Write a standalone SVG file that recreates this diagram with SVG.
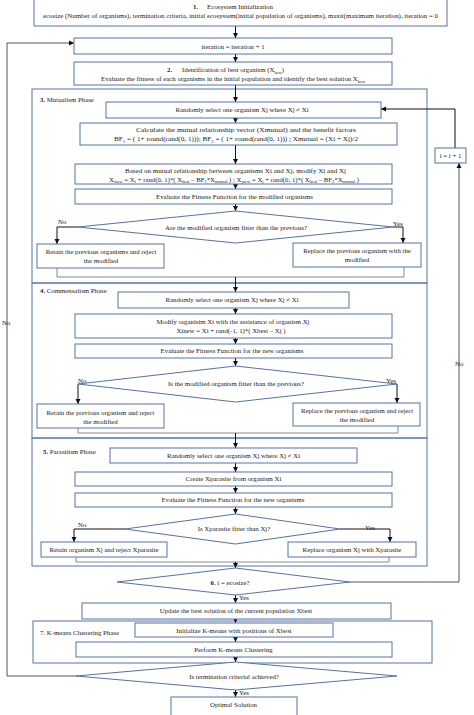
<svg xmlns="http://www.w3.org/2000/svg" width="474" height="715" viewBox="0 0 474 715">
<style>
.box{fill:#fff;stroke:#5672a8;stroke-width:1}
.ph{fill:none;stroke:#5672a8;stroke-width:1}
.dia{fill:#fff;stroke:#5672a8;stroke-width:1}
.t{font-family:"Liberation Serif","Times New Roman",serif;font-size:6.8px;fill:#222;text-anchor:middle}
.l{font-family:"Liberation Serif","Times New Roman",serif;font-size:6.8px;fill:#222}
.c{fill:none;stroke:#111;stroke-width:1}
.g{fill:none;stroke:#888;stroke-width:1}
.lp{fill:none;stroke:#555;stroke-width:1}
.sub{font-size:4.5px}
</style>
<defs>
<marker id="ah" markerUnits="userSpaceOnUse" markerWidth="6" markerHeight="6" refX="5" refY="3" orient="auto">
<path d="M0,0.5 L5,3 L0,5.5 Z" fill="#111"/>
</marker>
</defs>
<rect width="474" height="715" fill="#fff"/>

<g id="phases">
<rect class="ph" x="32" y="89" width="395" height="194"/>
<rect class="ph" x="32" y="283" width="395" height="155"/>
<rect class="ph" x="32" y="438" width="395" height="128"/>
<rect class="ph" x="33" y="621" width="399" height="42"/>
<text class="l" x="40" y="102"><tspan font-weight="bold">3.</tspan> Mutualism Phase</text>
<text class="l" x="40" y="293"><tspan font-weight="bold">4.</tspan> Commensalism Phase</text>
<text class="l" x="43" y="454"><tspan font-weight="bold">5.</tspan> Parasitism Phase</text>
<text class="l" x="40" y="635">7. K-means Clustering Phase</text>
</g>

<g id="connectors">
<line class="c" x1="235.5" y1="26" x2="235.5" y2="38" marker-end="url(#ah)"/>
<line class="c" x1="235.5" y1="54" x2="235.5" y2="62" marker-end="url(#ah)"/>
<line class="c" x1="235.5" y1="85" x2="235.5" y2="102" marker-end="url(#ah)"/>
<line class="c" x1="235.5" y1="118" x2="235.5" y2="123" marker-end="url(#ah)"/>
<line class="c" x1="235.5" y1="145" x2="235.5" y2="164" marker-end="url(#ah)"/>
<line class="c" x1="235.5" y1="184" x2="235.5" y2="189" marker-end="url(#ah)"/>
<line class="c" x1="235.5" y1="204" x2="235.5" y2="211" marker-end="url(#ah)"/>
<polyline class="c" points="78,227 57,227 57,244" marker-end="url(#ah)"/>
<polyline class="c" points="393,227 403,227 403,243" marker-end="url(#ah)"/>
<polyline class="g" points="57,268 57,277 404,277 404,267"/>
<line class="c" x1="235.5" y1="277" x2="235.5" y2="292" marker-end="url(#ah)"/>
<line class="c" x1="235.5" y1="308" x2="235.5" y2="314" marker-end="url(#ah)"/>
<line class="c" x1="235.5" y1="338" x2="235.5" y2="344" marker-end="url(#ah)"/>
<line class="c" x1="235.5" y1="358" x2="235.5" y2="366" marker-end="url(#ah)"/>
<line class="c" x1="78" y1="384" x2="78" y2="404" marker-end="url(#ah)"/>
<line class="c" x1="397" y1="384" x2="397" y2="403" marker-end="url(#ah)"/>
<polyline class="g" points="78,428 78,433 398,433 398,426"/>
<line class="c" x1="235.5" y1="433" x2="235.5" y2="448" marker-end="url(#ah)"/>
<line class="c" x1="235.5" y1="463" x2="235.5" y2="472" marker-end="url(#ah)"/>
<line class="c" x1="235.5" y1="486" x2="235.5" y2="493" marker-end="url(#ah)"/>
<line class="c" x1="235.5" y1="507" x2="235.5" y2="514" marker-end="url(#ah)"/>
<polyline class="c" points="125,529 74,529 74,542" marker-end="url(#ah)"/>
<polyline class="c" points="340,529 390,529 390,542" marker-end="url(#ah)"/>
<polyline class="g" points="76,557 76,562 389,562 389,557"/>
<line class="c" x1="235.5" y1="562" x2="235.5" y2="568" marker-end="url(#ah)"/>
<polyline class="lp" points="350,582 459,582 459,163" marker-end="url(#ah)"/>
<polyline class="c" points="455,148 455,109 381,109" marker-end="url(#ah)"/>
<line class="c" x1="235.5" y1="595" x2="235.5" y2="603" marker-end="url(#ah)"/>
<line class="c" x1="235.5" y1="619" x2="235.5" y2="623" marker-end="url(#ah)"/>
<line class="c" x1="235.5" y1="637" x2="235.5" y2="642" marker-end="url(#ah)"/>
<line class="c" x1="235.5" y1="657" x2="235.5" y2="662" marker-end="url(#ah)"/>
<polyline class="lp" points="78,676 7,676 7,43 74,43" marker-end="url(#ah)"/>
<line class="c" x1="235.5" y1="690" x2="235.5" y2="697" marker-end="url(#ah)"/>
<text class="l" x="58" y="224">No</text>
<text class="l" x="393" y="226">Yes</text>
<text class="l" x="78" y="383">No</text>
<text class="l" x="386" y="383">Yes</text>
<text class="l" x="78" y="527">No</text>
<text class="l" x="365" y="530">Yes</text>
<text class="l" x="239" y="600">Yes</text>
<text class="l" x="239" y="695">Yes</text>
<text class="l" x="2" y="325">No</text>
<text class="l" x="455" y="366">No</text>
</g>

<g id="n1">
<rect class="box" x="34" y="-2" width="413" height="28"/>
<text class="l" x="193" y="9" font-weight="bold">1.</text>
<text class="l" x="207" y="9">Ecosystem Initialization</text>
<text class="t" x="240.5" y="18" textLength="395" lengthAdjust="spacingAndGlyphs">ecosize (Number of organisms), termination criteria, initial ecosystem(initial population of organisms), maxit(maximum iteration), iteration = 0</text>
</g>
<g id="n_iter">
<rect class="box" x="74" y="38" width="318" height="16"/>
<text class="t" x="233" y="48.5">iteration = iteration + 1</text>
</g>
<g id="n2">
<rect class="box" x="74" y="62" width="318" height="23"/>
<text class="l" x="167" y="72" font-weight="bold">2.</text>
<text class="l" x="182" y="72">Identification of best organism (X<tspan class="sub" dy="1.5">best</tspan><tspan dy="-1.5">)</tspan></text>
<text class="l" x="101" y="81">Evaluate the fitness of each organisms in the initial population and identify the best solution X<tspan class="sub" dy="1.5">best</tspan></text>
</g>

<g id="m_select">
<rect class="box" x="106" y="102" width="275" height="16"/>
<text class="t" x="242" y="112">Randomly select one organism Xj  where Xj ≠ Xi</text>
</g>
<g id="m_calc">
<rect class="box" x="80" y="123" width="317" height="22"/>
<text class="t" x="246" y="132" textLength="220" lengthAdjust="spacingAndGlyphs">Calculate the mutual relationship vector (Xmutual) and the benefit factors</text>
<text class="t" x="236" y="141" textLength="244" lengthAdjust="spacingAndGlyphs">BF<tspan class="sub" dy="1.5">1</tspan><tspan dy="-1.5"> = ( 1+ round(rand(0, 1)));     BF</tspan><tspan class="sub" dy="1.5">2</tspan><tspan dy="-1.5"> = ( 1+ round(rand(0, 1))) ; Xmutual = (Xi + Xj)/2</tspan></text>
</g>
<g id="m_modify">
<rect class="box" x="75" y="164" width="317" height="20"/>
<text class="t" x="235.5" y="173" textLength="221" lengthAdjust="spacingAndGlyphs">Based on mutual relationship between organisms Xi and Xj, modify Xi and Xj</text>
<text class="t" x="234" y="181.5" textLength="250" lengthAdjust="spacingAndGlyphs">X<tspan class="sub" dy="1.5">inew</tspan><tspan dy="-1.5"> = X</tspan><tspan class="sub" dy="1.5">i</tspan><tspan dy="-1.5"> + rand(0, 1)*( X</tspan><tspan class="sub" dy="1.5">best</tspan><tspan dy="-1.5"> – BF</tspan><tspan class="sub" dy="1.5">1</tspan><tspan dy="-1.5">*X</tspan><tspan class="sub" dy="1.5">mutual</tspan><tspan dy="-1.5"> ) ; X</tspan><tspan class="sub" dy="1.5">jnew</tspan><tspan dy="-1.5"> = X</tspan><tspan class="sub" dy="1.5">j</tspan><tspan dy="-1.5"> + rand(0, 1)*( X</tspan><tspan class="sub" dy="1.5">best</tspan><tspan dy="-1.5"> – BF</tspan><tspan class="sub" dy="1.5">2</tspan><tspan dy="-1.5">*X</tspan><tspan class="sub" dy="1.5">mutual</tspan><tspan dy="-1.5"> )</tspan></text>
</g>
<g id="m_eval">
<rect class="box" x="75" y="189" width="317" height="15"/>
<text class="t" x="234.5" y="198.5" textLength="157" lengthAdjust="spacingAndGlyphs">Evaluate the Fitness Function for the modified organisms</text>
</g>
<g id="m_dec">
<polygon class="dia" points="235.5,211 393,227 235.5,243 78,227"/>
<text class="t" x="236" y="229.5" textLength="142" lengthAdjust="spacingAndGlyphs">Are the modified organism fitter than the previous?</text>
</g>
<g id="m_retain">
<rect class="box" x="37" y="244" width="127" height="24"/>
<text class="t" x="101" y="254">Retain the previous organisms and reject</text>
<text class="t" x="101" y="263">the modified</text>
</g>
<g id="m_replace">
<rect class="box" x="293" y="243" width="128" height="24"/>
<text class="t" x="357" y="253">Replace the previous organism with the</text>
<text class="t" x="357" y="262">modified</text>
</g>

<g id="c_select">
<rect class="box" x="118" y="292" width="231" height="16"/>
<text class="t" x="232" y="302">Randomly select one organism Xj  where Xj ≠ Xi</text>
</g>
<g id="c_modify">
<rect class="box" x="75" y="314" width="317" height="24"/>
<text class="t" x="233" y="324">Modify organisim Xi with the assistance of organism Xj</text>
<text class="t" x="231" y="333">Xinew = Xi + rand(-1, 1)*( Xbest – Xj  )</text>
</g>
<g id="c_eval">
<rect class="box" x="75" y="344" width="317" height="14"/>
<text class="t" x="232" y="353">Evaluate the Fitness Function for the new organisms</text>
</g>
<g id="c_dec">
<polygon class="dia" points="235.5,366 397,384 235.5,402 78,384"/>
<text class="t" x="236" y="386" textLength="136" lengthAdjust="spacingAndGlyphs">Is the modified organism fitter than the previous?</text>
</g>
<g id="c_retain">
<rect class="box" x="37" y="404" width="127" height="24"/>
<text class="t" x="100.5" y="415">Retain the previous organism and reject</text>
<text class="t" x="100.5" y="424">the modified</text>
</g>
<g id="c_replace">
<rect class="box" x="293" y="403" width="127" height="23"/>
<text class="t" x="357" y="412.5">Replace the previous organism and reject</text>
<text class="t" x="357" y="421.5">the modified</text>
</g>

<g id="p_select">
<rect class="box" x="110" y="448" width="247" height="15"/>
<text class="t" x="233.5" y="458">Randomly select one organism Xj where Xj ≠ Xi</text>
</g>
<g id="p_create">
<rect class="box" x="75" y="472" width="317" height="14"/>
<text class="t" x="233.5" y="481">Create Xparasite from organism Xi</text>
</g>
<g id="p_eval">
<rect class="box" x="75" y="493" width="317" height="14"/>
<text class="t" x="233" y="502">Evaluate the Fitness Function  for the new organisms</text>
</g>
<g id="p_dec">
<polygon class="dia" points="235.5,514 340,529 235.5,544 125,529"/>
<text class="t" x="234" y="531">Is Xparasite fitter than Xj?</text>
</g>
<g id="p_retain">
<rect class="box" x="41" y="542" width="126" height="15"/>
<text class="t" x="104" y="551.5">Retain organism Xj and reject Xparasite</text>
</g>
<g id="p_replace">
<rect class="box" x="288" y="542" width="128" height="15"/>
<text class="t" x="352" y="551.5">Replace  organism Xj with Xparasite</text>
</g>

<g id="n_iinc">
<rect class="box" x="435" y="148" width="31" height="15"/>
<text class="t" x="450.5" y="157.5">i = i + 1</text>
</g>
<g id="n6">
<polygon class="dia" points="235.5,568 350,582 235.5,595 117,582"/>
<text class="t" x="230" y="584.5"><tspan font-weight="bold">6.</tspan> i = ecosize?</text>
</g>
<g id="n_update">
<rect class="box" x="82" y="603" width="309" height="16"/>
<text class="t" x="236" y="613">Update the best solution of the current population  Xbest</text>
</g>
<g id="k_init">
<rect class="box" x="135" y="623" width="198" height="14"/>
<text class="t" x="234" y="632.5">Initialize K-means with positions of Xbest</text>
</g>
<g id="k_perform">
<rect class="box" x="76" y="642" width="316" height="15"/>
<text class="t" x="233.5" y="652">Perform K-means Clustering</text>
</g>
<g id="n_term">
<polygon class="dia" points="235.5,662 397,676 235.5,690 76,676"/>
<text class="t" x="234" y="678.5">Is termination criterial achieved?</text>
</g>
<g id="n_opt">
<rect class="box" x="171" y="697" width="126" height="22"/>
<text class="t" x="233.5" y="706.5">Optimal Solution</text>
</g>
</svg>
